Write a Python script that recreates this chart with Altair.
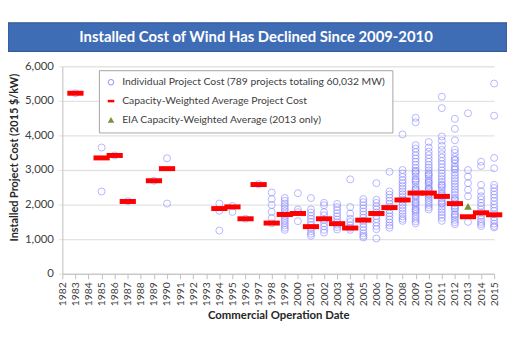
import altair as alt
import pandas as pd

# ---------------- data ----------------
avg_years = [1983, 1985, 1986, 1987, 1989, 1990, 1994, 1995, 1996, 1997, 1998, 1999,
             2000, 2001, 2002, 2003, 2004, 2005, 2006, 2007, 2008, 2009, 2010, 2011,
             2012, 2013, 2014, 2015]
avg_cost = [5220, 3350, 3420, 2090, 2690, 3040, 1886, 1934, 1590, 2580, 1466, 1714,
            1743, 1363, 1590, 1449, 1323, 1551, 1743, 1914, 2134, 2334, 2334, 2237,
            2029, 1649, 1763, 1706]

eia_year = [2013]
eia_cost = [1950]

p1983 = [5220]
p1985 = [3650, 2380]
p1986 = [3420]
p1987 = [2100]
p1989 = [2690]
p1990 = [3340, 2030]
p1994 = [2030, 1820, 1250]
p1995 = [1960, 1790]
p1996 = [1590]
p1997 = [2590]
p1998 = [2350, 2160, 1990, 1790, 1610, 1460]
p1999 = [2190, 2110, 2030, 1960, 1880, 1810, 1740, 1680, 1610, 1540, 1470, 1400, 1330, 1270]
p2000 = [2330, 1860, 1780, 1520]
p2001 = [2190, 1860, 1770, 1680, 1590, 1500, 1410, 1320, 1230, 1160, 1100]
p2002 = [2050, 1980, 1780, 1690, 1560, 1460, 1370, 1270, 1190]
p2003 = [2020, 1930, 1840, 1750, 1660, 1570, 1490, 1420, 1350, 1280]
p2004 = [2730, 1930, 1740, 1590, 1500, 1400, 1330, 1270]
p2005 = [2160, 2070, 1980, 1890, 1800, 1710, 1620, 1530, 1440, 1350, 1260, 1170, 1100, 1050]
p2006 = [2620, 2140, 2050, 1950, 1860, 1770, 1670, 1580, 1480, 1380, 1290, 1020]
p2007 = [2950, 2380, 2290, 2200, 2110, 2020, 1930, 1840, 1750, 1660, 1570, 1480, 1400, 1330]
p2008 = [4030, 3000, 2900, 2800, 2700, 2620, 2540, 2460, 2380, 2300, 2220, 2140, 2060,
         1980, 1900, 1820, 1740, 1660, 1590, 1530]
p2009 = [4510, 4380, 3720, 3620, 3520, 3420, 3330, 3240, 3150, 3060, 2980, 2900, 2820,
         2740, 2660, 2580, 2500, 2430, 2360, 2290, 2220, 2150, 2080, 2010, 1940, 1870,
         1800, 1730, 1660, 1590, 1520, 1460, 2950, 2700, 2450, 2250, 2050, 1850]
p2010 = [3810, 3650, 3530, 3430, 3330, 3240, 3150, 3070, 2990, 2910, 2830, 2760, 2690,
         2620, 2550, 2480, 2410, 2340, 2270, 2200, 2130, 2060, 1990, 1920, 1860, 2870,
         2650, 2450, 2300]
p2011 = [5120, 4790, 3970, 3850, 3700, 3580, 3460, 3360, 3260, 3170, 3080, 2990, 2900,
         2820, 2740, 2660, 2580, 2500, 2420, 2340, 2260, 2180, 2100, 2020, 1940, 1860,
         1780, 1700, 1620, 1530, 2550, 2300, 2050]
p2012 = [4480, 4190, 3860, 3590, 3500, 3380, 3280, 3190, 3100, 3010, 2920, 2840, 2760,
         2680, 2600, 2520, 2440, 2360, 2280, 2200, 2120, 2040, 1960, 1880, 1800, 1720,
         1640, 1560, 1490, 1430, 3300, 3050, 2150, 1900, 1700]
p2013 = [4640, 3000, 2810, 2620, 2430, 2240, 1500]
p2014 = [3240, 3120, 2570, 2380, 2240, 2150, 2050, 1960, 1860, 1770, 1680, 1580, 1500,
         1440, 1380]
p2015 = [5500, 4570, 3350, 3050, 2570, 2480, 2380, 2290, 2200, 2100, 2000, 1910, 1820,
         1720, 1630, 1540, 1450, 1380, 1340]

year_ticks = list(range(1982, 2016))
y_ticks = [0, 1000, 2000, 3000, 4000, 5000, 6000]

title_text = "Installed Cost of Wind Has Declined Since 2009-2010"
ser_pts = "Individual Project Cost (789 projects totaling 60,032 MW)"
ser_avg = "Capacity-Weighted Average Project Cost"
ser_eia = "EIA Capacity-Weighted Average (2013 only)"

# ---------------- tables ----------------
project_lists = {
    1983: p1983, 1985: p1985, 1986: p1986, 1987: p1987, 1989: p1989, 1990: p1990,
    1994: p1994, 1995: p1995, 1996: p1996, 1997: p1997, 1998: p1998, 1999: p1999,
    2000: p2000, 2001: p2001, 2002: p2002, 2003: p2003, 2004: p2004, 2005: p2005,
    2006: p2006, 2007: p2007, 2008: p2008, 2009: p2009, 2010: p2010, 2011: p2011,
    2012: p2012, 2013: p2013, 2014: p2014, 2015: p2015,
}
rows = []
for yr, vals in project_lists.items():
    for v in vals:
        rows.append({"year": yr, "cost": v, "series": ser_pts})
pts_df = pd.DataFrame(rows)
avg_df = pd.DataFrame({"year": avg_years, "cost": avg_cost, "series": ser_avg})
eia_df = pd.DataFrame({"year": eia_year, "cost": eia_cost, "series": ser_eia})

FONT = "Lato"
TXT = "#404040"
PT_COLOR = "#7B7BFF"

domain = [ser_pts, ser_avg, ser_eia]
color_scale = alt.Scale(domain=domain, range=["#9C9CF5", "#FF0000", "#77933C"])
ring = ("M-1,0A1,1 0 1,0 1,0A1,1 0 1,0 -1,0Z"
        "M-0.68,0A0.68,0.68 0 1,1 0.68,0A0.68,0.68 0 1,1 -0.68,0Z")
dash_path = "M-1,-0.38L1,-0.38L1,0.38L-1,0.38Z"
shape_scale = alt.Scale(domain=domain, range=[ring, dash_path, "triangle-up"])

xscale = alt.Scale(domain=[1982, 2015], nice=False, zero=False)
yscale = alt.Scale(domain=[0, 6000], nice=False)

x_axis = alt.Axis(values=year_ticks, format="d", labelAngle=-90, grid=False,
                  labelOverlap=False, labelFlush=False, tickCount=34,
                  title="Commercial Operation Date", tickSize=5, labelPadding=3,
                  titleY=42, titleBaseline="middle")
y_axis = alt.Axis(values=y_ticks, format=",d", grid=True, labelOverlap=False,
                  labelFlush=False, tickCount=7,
                  title="Installed Project Cost (2015 $/kW)", tickSize=4,
                  labelPadding=5, titleX=-48, titleY=92, titleBaseline="middle",
                  titleAngle=-90)

legend = alt.Legend(
    title=None, orient="none", legendX=37, legendY=4,
    fillColor="white", strokeColor="#A6A6A6", padding=7, rowPadding=8,
    labelFont=FONT, labelFontSize=10.5, labelColor=TXT, labelLimit=400,
    labelOffset=6, symbolSize=44, symbolStrokeWidth=0, symbolOpacity=1,
)

points = alt.Chart(pts_df).mark_point(
    shape="circle", filled=False, size=50, strokeWidth=1, opacity=0.55, color=PT_COLOR
).encode(
    x=alt.X("year:Q", scale=xscale, axis=x_axis),
    y=alt.Y("cost:Q", scale=yscale, axis=y_axis),
)

dashes = alt.Chart(avg_df).transform_calculate(
    x_lo="datum.year - 0.62", x_hi="datum.year + 0.62"
).mark_rule(strokeWidth=5, strokeCap="butt", color="#FF0000").encode(
    x=alt.X("x_lo:Q", scale=xscale, axis=x_axis),
    x2="x_hi:Q",
    y=alt.Y("cost:Q", scale=yscale, axis=y_axis),
)

eia = alt.Chart(eia_df).mark_point(filled=True, size=60, opacity=1).encode(
    x=alt.X("year:Q", scale=xscale, axis=x_axis),
    y=alt.Y("cost:Q", scale=yscale, axis=y_axis),
    color=alt.Color("series:N", scale=color_scale, legend=legend),
    shape=alt.Shape("series:N", scale=shape_scale, legend=legend),
)

banner_df = pd.DataFrame({"label": [title_text]})
banner = alt.Chart(banner_df).mark_rect(
    fill="#3F6DB5", stroke="#2F528F", strokeWidth=1
).encode(
    x=alt.value(-55), x2=alt.value(450), y=alt.value(-44), y2=alt.value(-15)
)
banner_text = alt.Chart(banner_df).mark_text(
    font=FONT, fontSize=15, fontWeight="bold", color="white",
    align="center", baseline="middle"
).encode(
    x=alt.value(196), y=alt.value(-29.5), text="label:N"
)

chart = alt.layer(banner, banner_text, points, dashes, eia).properties(
    width=437, height=210,
    autosize=alt.AutoSizeParams(type="none"),
    padding={"left": 55, "top": 57, "right": 13, "bottom": 60},
).configure_view(stroke=None).configure_axis(
    labelFont=FONT, titleFont=FONT, labelColor=TXT, titleColor="#262626",
    domainColor="#BFBFBF", tickColor="#BFBFBF", gridColor="#E3E3E3", gridWidth=1.3,
    titleFontWeight="bold",
).configure_axisX(labelFontSize=10.5, titleFontSize=11.5).configure_axisY(
    labelFontSize=11.5, titleFontSize=11, tickColor="#E3E3E3"
)

chart.save("out.html", embed_options={"renderer": "svg", "actions": False})
